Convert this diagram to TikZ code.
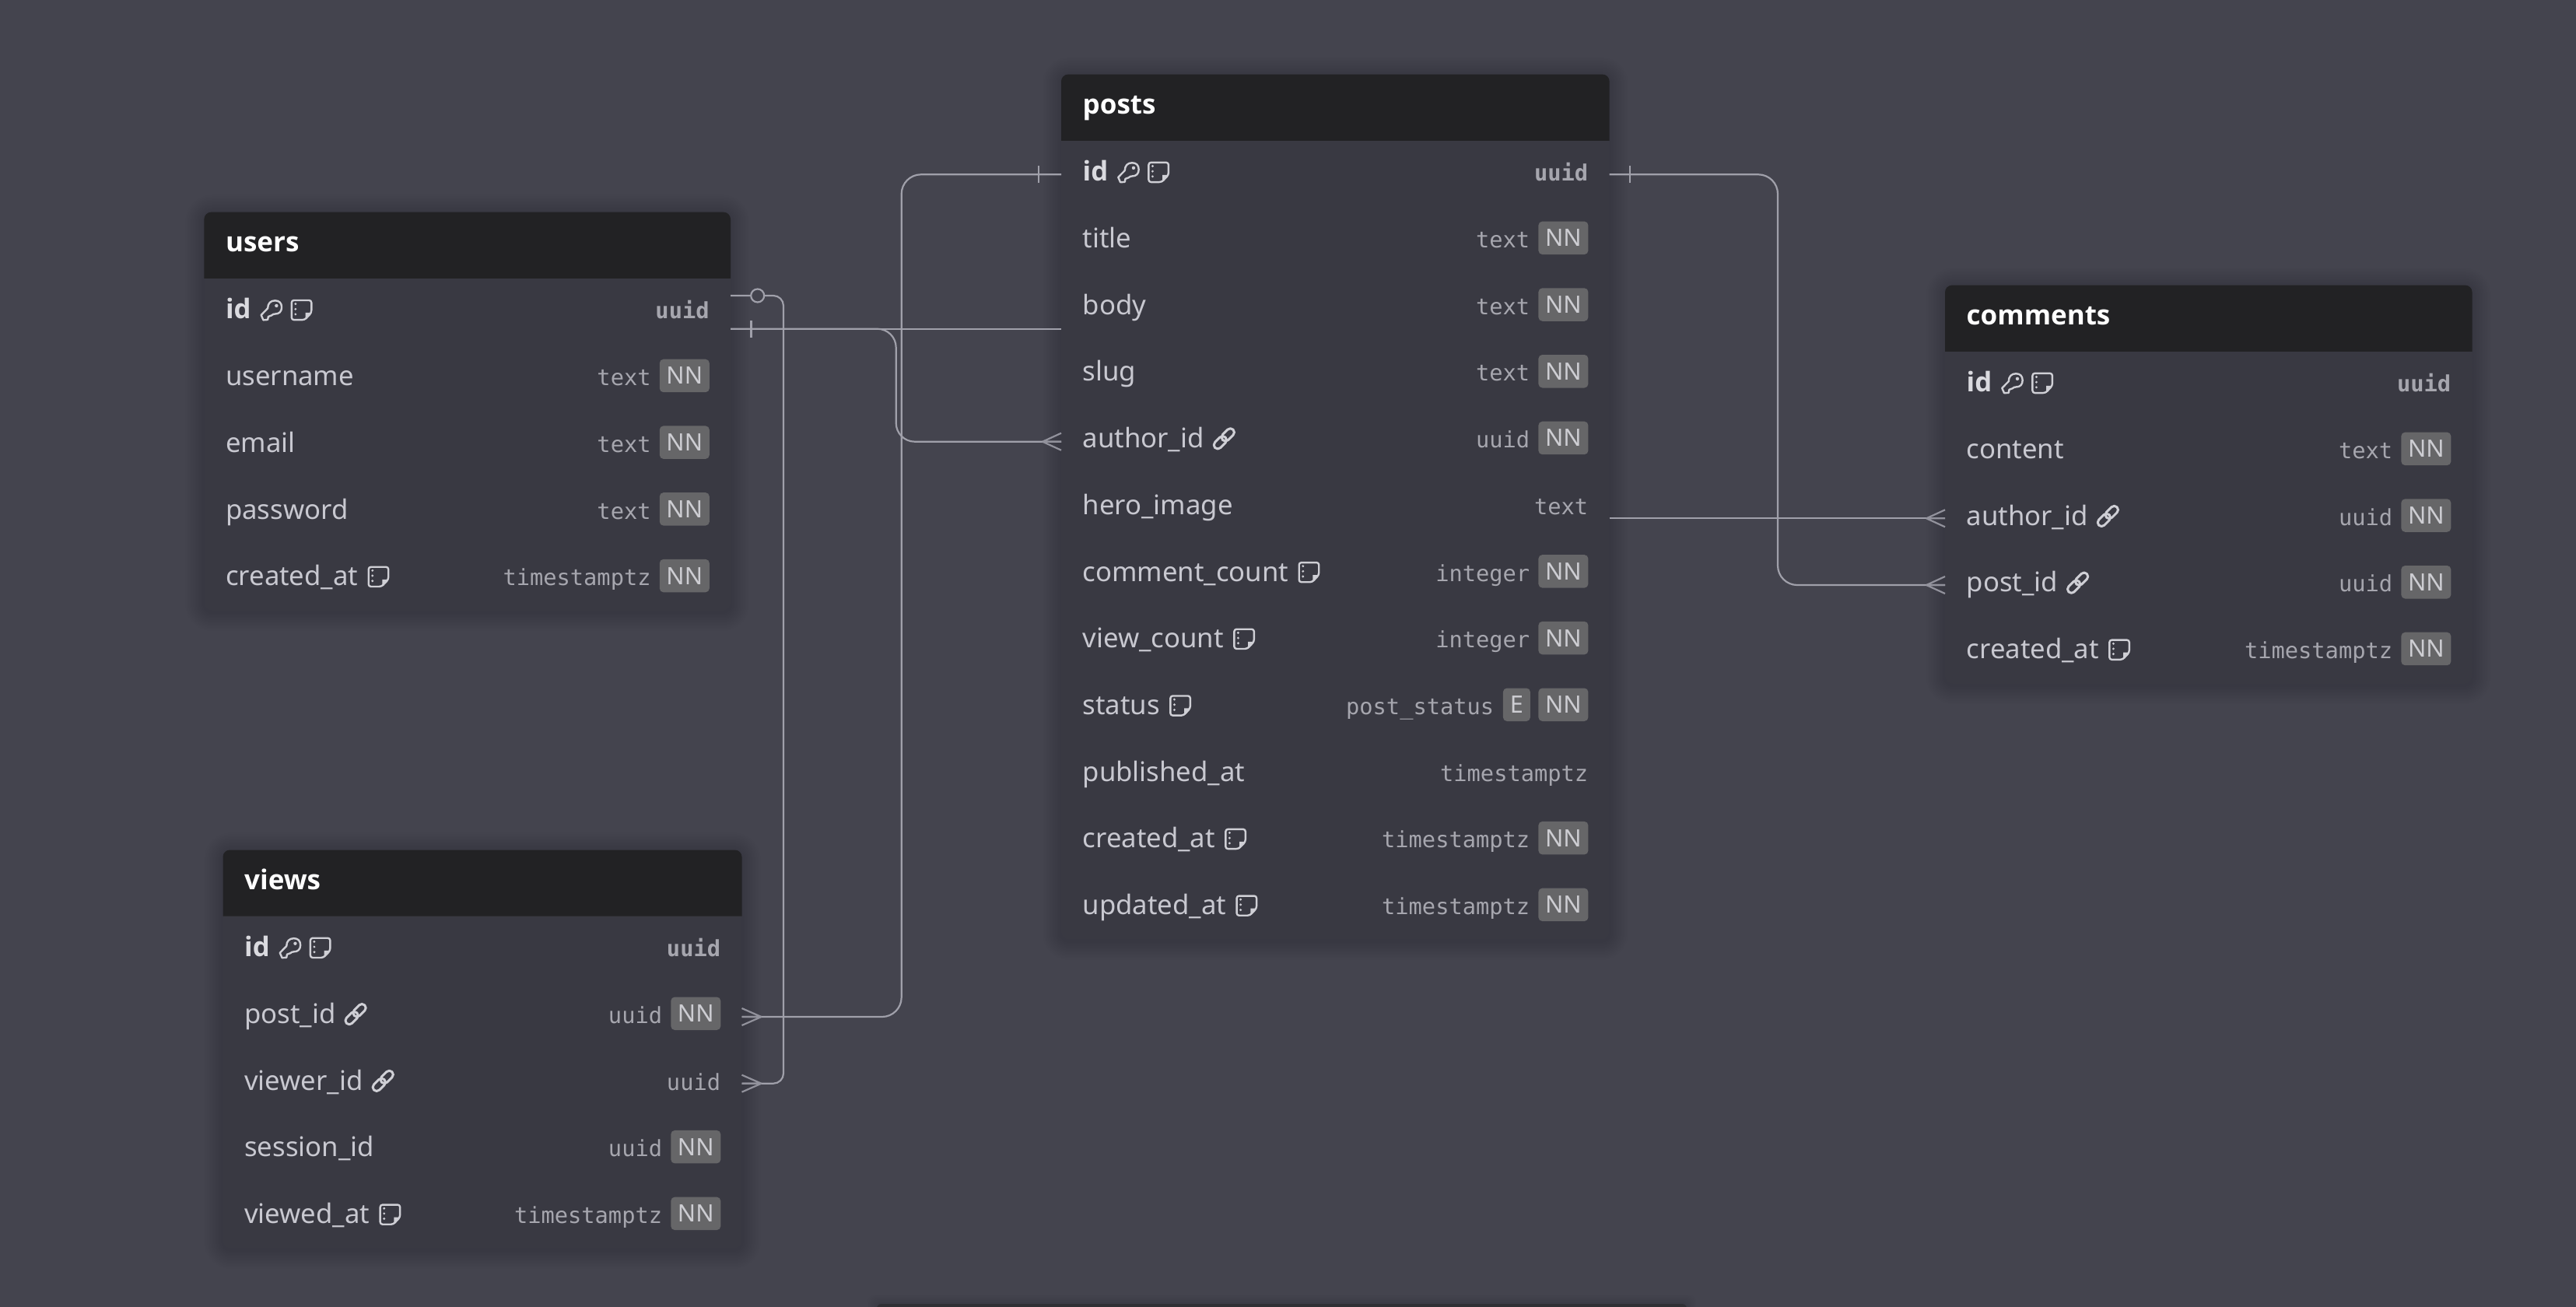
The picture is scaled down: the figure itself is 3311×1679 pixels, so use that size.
\documentclass[tikz,border=0pt]{standalone}
\usepackage{fontspec}
\setmainfont{Noto Sans}
\newfontfamily\boldfam{Open Sans}
\newfontfamily\monof{DejaVu Sans Mono}
\definecolor{bgc}{HTML}{44444E}
\definecolor{cardc}{HTML}{393942}
\definecolor{hdrc}{HTML}{222224}
\definecolor{namec}{HTML}{C8C8D0}
\definecolor{idc}{HTML}{DADADF}
\definecolor{typec}{HTML}{A6A6AE}
\definecolor{badgec}{HTML}{666668}
\definecolor{badgetx}{HTML}{CDCDD2}
\definecolor{relc}{HTML}{A0A0AA}
\definecolor{crowc}{HTML}{92929C}
\definecolor{iconc}{HTML}{CFCFD5}
\definecolor{edgebar}{HTML}{303035}
\tikzset{
  titletext/.style={inner sep=0pt,anchor=base west,text=white,font=\boldfam\fontsize{35}{42}\selectfont\bfseries},
  nametext/.style={inner sep=0pt,anchor=base west,text=namec,font=\fontsize{34.7}{40}\selectfont},
  typetext/.style={inner sep=0pt,anchor=base east,text=typec,font=\monof\fontsize{28.7}{34}\selectfont},
  badgebox/.style={inner sep=0pt,fill=badgec,rounded corners=5pt,text=badgetx,minimum height=42.5pt,font=\fontsize{30.7}{36}\selectfont},
  rel/.style={draw=relc,line width=2.2pt},
  crow/.style={draw=crowc,line width=2.2pt},
  iconline/.style={draw=iconc,line width=2.4pt,line join=round},
  pics/noteicon/.style={code={
    \draw[iconline,rounded corners=3pt] (1.25,-24) -- (26.75,-24) -- (26.75,-8) -- (18,1.2) -- (1.25,1.2) -- cycle;
    \fill[iconc] (26.75,-8) -- (19,-8) -- (19,1.2) -- cycle;
    \fill[iconc] (6.3,-19.4) circle[radius=1.6pt] (6.3,-12.7) circle[radius=1.6pt] (6.3,-6) circle[radius=1.6pt];
  }},
  pics/keyicon/.style={code={
    \draw[iconline] (.8,-5) -- (9.3,-13.7) .. controls (9.3,-20) and (13,-23.6) .. (18.7,-23.6) .. controls (24,-23.6) and (27.2,-20.5) .. (27.2,-15) .. controls (27.2,-9.5) and (24,-6.4) .. (18.7,-6.4) .. controls (17,-6.4) and (15.5,-5.9) .. (14.3,-4.6) -- (10,-3) -- (9.3,1) -- (3.6,1.4) -- cycle;
    \fill[iconc] (20.5,-17) circle[radius=2.2pt];
  }},
  pics/linkicon/.style={code={
    \begin{scope}[shift={(13.5,-11.8)},rotate=45]
      \draw[iconline,line width=3pt,rounded corners=5pt] (-16.5,-5) rectangle (2.5,5);
      \draw[iconline,line width=3pt,rounded corners=5pt] (-2.5,-5) rectangle (16.5,5);
    \end{scope}
  }}
}
\newcommand{\tablecard}[6]{%
  \def\tl{#2}\def\tr{#3}\def\tt{#4}
  \pgfmathsetmacro\hb{#4+85.2}
  \pgfmathsetmacro\bb{\hb+85.7*#5-1.5}
  \foreach \i in {1,...,12}{
    \pgfmathsetmacro\rr{10+2*\i}
    \fill[black,opacity=.009,rounded corners=\rr pt] ({#2-2*\i},{#4-2*\i+2}) rectangle ({#3+2*\i},{\bb+2*\i+2});
  }
  \fill[cardc,rounded corners=10pt] (#2,#4) rectangle (#3,\bb);
  \fill[hdrc] (#2,\hb) [rounded corners=9pt] -- (#2,#4) -- (#3,#4) [sharp corners] -- (#3,\hb) -- cycle;
  \node[titletext] (#1-title) at (#2+27.5,#4+50.6) {#6};
}
% id, row, name, icons (0 none,1 note,2 link,3 key+note), type, badges (0,1 NN,2 E+NN)
\newcommand{\field}[6]{%
  \pgfmathsetmacro\ry{\hb+85.7*#2+42.85}
  \pgfmathsetmacro\rb{\ry-3.5}
  \pgfmathsetmacro\rt{\ry+9.2}
  \pgfmathsetmacro\rx{\tr-27.2}
  \node[nametext] (#1-name) at (\tl+27.5,\rt) {#3};
  \ifcase#4\relax
  \or \path (#1-name.base east) ++(12,0) pic {noteicon};
  \or \path (#1-name.base east) ++(12,0) pic {linkicon};
  \or \path (#1-name.base east) ++(12,0) pic {keyicon} ++(38.7,0) pic {noteicon};
  \fi
  \ifcase#6\relax
    \node[typetext] (#1-type) at (\rx,\rt) {#5};
  \or
    \node[badgebox,minimum width=64pt] (#1-nn) at (\rx-32,\rb) {NN};
    \node[typetext] (#1-type) at (\rx-75,\rt) {#5};
  \or
    \node[badgebox,minimum width=64pt] (#1-nn) at (\rx-32,\rb) {NN};
    \node[badgebox,minimum width=35pt] (#1-e) at (\rx-92,\rb) {E};
    \node[typetext] (#1-type) at (\rx-121,\rt) {#5};
  \fi
}
\newcommand{\pkname}{\boldfam\bfseries\color{idc}}
\newcommand{\pktype}{\bfseries}
\newcommand{\crowtoleft}[1]{% tip to the right of edge point (views)
  \draw[crow] ([xshift=25pt,yshift=0pt]#1) -- ([yshift=11pt]#1) ([xshift=25pt]#1) -- ([yshift=-11pt]#1) ([xshift=25pt]#1) -- (#1);
}
\newcommand{\crowtoright}[1]{%
  \draw[crow] ([xshift=-24pt]#1) -- ([yshift=11pt]#1) ([xshift=-24pt]#1) -- ([yshift=-11pt]#1) ([xshift=-24pt]#1) -- (#1);
}
\begin{document}
\begin{tikzpicture}[x=1pt,y=-1pt]
\useasboundingbox (0,0) rectangle (3311,1679);
\fill[bgc] (-5,-5) rectangle (3316,1690);
% partly visible table at the bottom edge
\foreach \i in {1,...,8}{
  \fill[black,opacity=.012,rounded corners=10pt] ({1127-1.5*\i},{1676-1.5*\i}) rectangle ({2168+1.5*\i},1700);
}
\fill[edgebar,rounded corners=6pt] (1127,1676) rectangle (2168,1700);

\tablecard{users}{262.4}{939}{272.7}{5}{users}
\field{users-id}{0}{{\pkname id}}{3}{{\pktype uuid}}{0}
\field{users-username}{1}{username}{0}{text}{1}
\field{users-email}{2}{email}{0}{text}{1}
\field{users-password}{3}{password}{0}{text}{1}
\field{users-created}{4}{created\_at}{1}{timestamptz}{1}

\tablecard{views}{286.5}{953.5}{1092.5}{5}{views}
\field{views-id}{0}{{\pkname id}}{3}{{\pktype uuid}}{0}
\field{views-post}{1}{post\_id}{2}{uuid}{1}
\field{views-viewer}{2}{viewer\_id}{2}{uuid}{0}
\field{views-session}{3}{session\_id}{0}{uuid}{1}
\field{views-viewed}{4}{viewed\_at}{1}{timestamptz}{1}

\tablecard{posts}{1364}{2068.6}{95.6}{12}{posts}
\field{posts-id}{0}{{\pkname id}}{3}{{\pktype uuid}}{0}
\field{posts-title}{1}{title}{0}{text}{1}
\field{posts-body}{2}{body}{0}{text}{1}
\field{posts-slug}{3}{slug}{0}{text}{1}
\field{posts-author}{4}{author\_id}{2}{uuid}{1}
\field{posts-hero}{5}{hero\_image}{0}{text}{0}
\field{posts-ccount}{6}{comment\_count}{1}{integer}{1}
\field{posts-vcount}{7}{view\_count}{1}{integer}{1}
\field{posts-status}{8}{status}{1}{post\_status}{2}
\field{posts-published}{9}{published\_at}{0}{timestamptz}{0}
\field{posts-created}{10}{created\_at}{1}{timestamptz}{1}
\field{posts-updated}{11}{updated\_at}{1}{timestamptz}{1}

\tablecard{comments}{2500}{3177.5}{366.6}{5}{comments}
\field{comments-id}{0}{{\pkname id}}{3}{{\pktype uuid}}{0}
\field{comments-content}{1}{content}{0}{text}{1}
\field{comments-author}{2}{author\_id}{2}{uuid}{1}
\field{comments-post}{3}{post\_id}{2}{uuid}{1}
\field{comments-created}{4}{created\_at}{1}{timestamptz}{1}

% connector end points
\coordinate (uA) at (939,380);
\coordinate (uB) at (939,422.7);
\coordinate (pBody) at (1364,422.7);
\coordinate (pAuth) at (1364,567.7);
\coordinate (pIdW) at (1364,224.3);
\coordinate (pIdE) at (2068.6,224.3);
\coordinate (pHero) at (2068.6,666.3);
\coordinate (vPost) at (953.5,1307);
\coordinate (vView) at (953.5,1392.7);
\coordinate (cAuth) at (2500,666.3);
\coordinate (cPost) at (2500,752);
\coordinate (laneA) at (1007,900);
\coordinate (laneB) at (1151.7,500);
\coordinate (laneC) at (1158.7,800);
\coordinate (laneD) at (2285,500);

\draw[rel,rounded corners=13pt] (uA) -| (laneA) |- (vView);
\draw[rel] (uB) -- (pBody);
\draw[rel,rounded corners=24pt] (uB) -| (laneB) |- (pAuth);
\draw[rel,rounded corners=25pt] (pIdW) -| (laneC) |- (vPost);
\draw[rel,rounded corners=25pt] (pIdE) -| (laneD) |- (cPost);
\draw[rel] (pHero) -- (cAuth);

% one-side markers
\node[circle,draw=relc,line width=2.2pt,fill=bgc,inner sep=0pt,minimum size=17pt] (uAring) at (973.7,380) {};
\draw[rel] ([xshift=26.5pt,yshift=-11pt]uB) -- ([xshift=26.5pt,yshift=11pt]uB);
\draw[rel] ([xshift=-29pt,yshift=-11pt]pIdW) -- ([xshift=-29pt,yshift=11pt]pIdW);
\draw[rel] ([xshift=26.5pt,yshift=-11pt]pIdE) -- ([xshift=26.5pt,yshift=11pt]pIdE);
% many-side markers
\crowtoleft{vPost}
\crowtoleft{vView}
\crowtoright{pAuth}
\crowtoright{cAuth}
\crowtoright{cPost}
\end{tikzpicture}
\end{document}
